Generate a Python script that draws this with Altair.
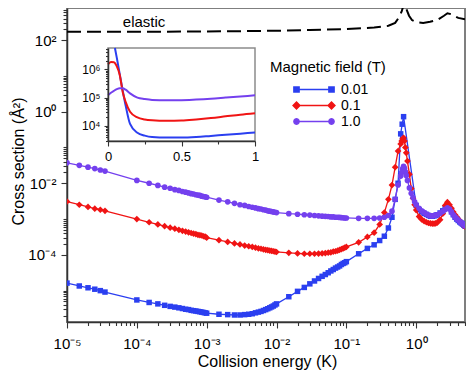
import math
import altair as alt
import pandas as pd

FONT = "Liberation Sans, Arial, Helvetica, sans-serif"

# ---------------- data ----------------
series_names = ["0.01", "0.1", "1.0"]
series_colors = ["#2b3ff0", "#f01414", "#7440ee"]

# common low-energy grid (K)
x_low = [1e-5, 1.5e-5, 2e-5, 2.5e-5, 3e-5, 3.5e-5,
         1e-4, 1.5e-4, 2e-4, 2.5e-4, 3e-4, 3.5e-4, 4e-4, 4.5e-4, 5e-4,
         5.5e-4, 6e-4, 6.5e-4, 7e-4, 7.5e-4, 8e-4, 8.5e-4, 9e-4, 9.5e-4,
         1e-3, 1.5e-3, 2e-3, 2.5e-3, 3e-3, 3.5e-3, 4e-3, 4.5e-3, 5e-3,
         5.5e-3, 6e-3, 6.5e-3, 7e-3, 7.5e-3, 8e-3, 8.5e-3, 9e-3, 9.5e-3,
         1e-2, 1.5e-2, 2e-2, 2.5e-2, 3e-2, 3.5e-2, 4e-2, 4.5e-2, 5e-2,
         5.5e-2, 6e-2, 6.5e-2, 7e-2, 7.5e-2, 8e-2, 8.5e-2, 9e-2, 9.5e-2,
         0.1, 0.15, 0.2, 0.25, 0.3, 0.35, 0.4, 0.45]

# log10 of cross section (A^2) on x_low
blue_low_log = [-4.79, -4.87, -4.92, -4.96, -5.00, -5.04,
                -5.26, -5.33, -5.37, -5.41, -5.44, -5.46, -5.48, -5.50, -5.52,
                -5.53, -5.55, -5.56, -5.57, -5.58, -5.59, -5.60, -5.61, -5.62,
                -5.63, -5.66, -5.67, -5.68, -5.68, -5.67, -5.66, -5.645, -5.62,
                -5.60, -5.58, -5.555, -5.53, -5.505, -5.48, -5.455, -5.43, -5.40,
                -5.37, -5.17, -5.02, -4.91, -4.81, -4.73, -4.66, -4.60, -4.55,
                -4.50, -4.45, -4.41, -4.37, -4.34, -4.31, -4.27, -4.24, -4.22,
                -4.19, -3.97, -3.82, -3.72, -3.60, -3.48, -3.25, -2.95]
red_low_log = [-2.51, -2.60, -2.66, -2.71, -2.74, -2.77,
               -3.00, -3.09, -3.15, -3.20, -3.24, -3.27, -3.30, -3.33, -3.35,
               -3.37, -3.39, -3.41, -3.42, -3.44, -3.45, -3.46, -3.48, -3.49,
               -3.52, -3.59, -3.64, -3.68, -3.71, -3.74, -3.76, -3.78, -3.80,
               -3.82, -3.83, -3.85, -3.86, -3.87, -3.88, -3.89, -3.90, -3.91,
               -3.92, -3.945, -3.96, -3.97, -3.97, -3.97, -3.965, -3.96, -3.95,
               -3.94, -3.93, -3.91, -3.90, -3.88, -3.86, -3.84, -3.82, -3.80,
               -3.78, -3.65, -3.50, -3.38, -3.15, -2.82, -2.45, -2.05]
purple_low_log = [-1.43, -1.50, -1.55, -1.59, -1.63, -1.66,
                  -1.92, -2.00, -2.06, -2.11, -2.14, -2.18, -2.20, -2.23, -2.25,
                  -2.27, -2.29, -2.30, -2.32, -2.33, -2.34, -2.36, -2.37, -2.38,
                  -2.39, -2.47, -2.52, -2.56, -2.60, -2.62, -2.65, -2.67, -2.69,
                  -2.71, -2.72, -2.74, -2.75, -2.77, -2.78, -2.79, -2.80, -2.81,
                  -2.82, -2.85, -2.865, -2.88, -2.89, -2.90, -2.91, -2.92, -2.925,
                  -2.93, -2.94, -2.94, -2.95, -2.95, -2.955, -2.96, -2.965, -2.97,
                  -2.97, -2.98, -2.98, -2.98, -2.97, -2.95, -2.90, -2.78]

# resonance / high-energy region
x_high = [0.5, 0.55, 0.6, 0.62, 0.64, 0.66, 0.68, 0.7, 0.72, 0.75, 0.8, 0.85,
          0.9, 0.95, 1.0, 1.1, 1.2, 1.3, 1.4, 1.5, 1.6, 1.7, 1.8, 1.9, 2.0,
          2.2, 2.4, 2.6, 2.8, 3.0, 3.2, 3.4, 3.6, 3.8, 4.0, 4.2, 4.4, 4.6, 4.8, 5.0]
red_high_log = [-1.55, -1.10, -0.90, -0.82, -0.76, -0.73, -0.82, -1.00, -1.15,
                -1.38, -1.75, -2.15, -2.42, -2.60, -2.75, -2.93, -3.01, -3.06,
                -3.09, -3.11, -3.12, -3.13, -3.13, -3.12, -3.10, -3.02, -2.85,
                -2.62, -2.53, -2.60, -2.70, -2.80, -2.88, -2.94, -3.00, -3.05,
                -3.10, -3.14, -3.18, -3.21]
purple_high_log = [-2.45, -2.05, -1.80, -1.70, -1.60, -1.53, -1.58, -1.68, -1.78,
                   -1.92, -2.13, -2.28, -2.40, -2.52, -2.60, -2.70, -2.77, -2.82,
                   -2.86, -2.89, -2.91, -2.91, -2.90, -2.89, -2.88, -2.84, -2.79,
                   -2.73, -2.69, -2.72, -2.80, -2.88, -2.94, -2.99, -3.03, -3.07,
                   -3.10, -3.13, -3.16, -3.19]
x_high_blue = [0.5, 0.55, 0.6, 0.63, 0.66, 1.0, 1.1, 1.2, 1.3, 1.4, 1.5, 1.6,
               1.7, 1.8, 1.9, 2.0, 2.2, 2.4, 2.6, 2.8, 3.0, 3.2, 3.4, 3.6, 3.8,
               4.0, 4.2, 4.4, 4.6, 4.8, 5.0]
blue_high_log = [-2.45, -2.00, -0.62, -0.35, -0.14, -2.62, -2.74, -2.80, -2.84,
                 -2.87, -2.90, -2.92, -2.92, -2.91, -2.90, -2.88, -2.83, -2.77,
                 -2.70, -2.64, -2.70, -2.80, -2.88, -2.95, -3.00, -3.04, -3.08,
                 -3.11, -3.14, -3.17, -3.20]

# elastic cross section (dashed)
elastic_x = [1e-5, 1e-4, 1e-3, 1e-2, 0.03, 0.1, 0.25, 0.4, 0.5, 0.56, 0.62,
             0.68, 0.72, 0.79, 0.87, 1.0, 1.26, 1.58, 2.0, 2.5, 2.8, 3.2, 4.0, 5.0]
elastic_log = [2.23, 2.23, 2.24, 2.26, 2.28, 2.31, 2.35, 2.40, 2.48, 2.62, 2.80,
               3.07, 2.88, 2.68, 2.56, 2.50, 2.48, 2.51, 2.56, 2.68, 2.75, 2.72,
               2.62, 2.58]
elastic_label = ["elastic"]
elastic_label_x = [1.27e-4]
elastic_label_y = [320.0]

# inset (linear energy axis, K)
inset_x = [0.0, 0.02, 0.04, 0.06, 0.08, 0.1, 0.12, 0.15, 0.2, 0.25, 0.3, 0.4,
           0.5, 0.6, 0.7, 0.8, 0.9, 1.0]
inset_red_log = [6.17, 6.26, 6.25, 6.10, 5.80, 5.20, 4.85, 4.50, 4.30, 4.23,
                 4.20, 4.18, 4.19, 4.23, 4.28, 4.34, 4.40, 4.45]
inset_purple_log = [5.08, 5.17, 5.24, 5.30, 5.33, 5.33, 5.28, 5.15, 5.00, 4.95,
                    4.92, 4.91, 4.91, 4.93, 4.96, 5.00, 5.04, 5.08]
inset_blue_x = [0.047, 0.06, 0.08, 0.1, 0.12, 0.15, 0.2, 0.25, 0.3, 0.4, 0.5,
                0.6, 0.7, 0.8, 0.9, 1.0]
inset_blue_log = [6.75, 6.40, 5.82, 5.25, 4.72, 4.07, 3.76, 3.66, 3.61, 3.59,
                  3.59, 3.61, 3.65, 3.69, 3.73, 3.77]

legend_title = "Magnetic field (T)"

# ---------------- tables ----------------
def table(xs, logs, name):
    return pd.DataFrame({"x": xs, "y": [10 ** v for v in logs], "series": name})

blue_df = pd.concat([table(x_low, blue_low_log, "0.01"), table(x_high_blue, blue_high_log, "0.01")])
red_df = pd.concat([table(x_low, red_low_log, "0.1"), table(x_high, red_high_log, "0.1")])
purple_df = pd.concat([table(x_low, purple_low_log, "1.0"), table(x_high, purple_high_log, "1.0")])
elastic_df = table(elastic_x, elastic_log, "elastic")
label_df = pd.DataFrame({"x": elastic_label_x, "y": elastic_label_y, "t": elastic_label})
legend_df = pd.DataFrame({"series": series_names, "x": [1e-7] * 3, "y": [1e-9] * 3})
inset_df = pd.concat([table(inset_blue_x, inset_blue_log, "0.01"),
                      table(inset_x, inset_red_log, "0.1"),
                      table(inset_x, inset_purple_log, "1.0")])
X_DOM = [1e-5, 5.0]
Y_DOM = [1.33e-6, 787.0]
IX_DOM = [0.0, 1.0]
IY_DOM = [10 ** 3.47, 10 ** 6.75]
frame_df = pd.DataFrame({"x": [IX_DOM[0]], "x2": [IX_DOM[1]], "y": [IY_DOM[0]], "y2": [IY_DOM[1]]})

# ---------------- axes helpers ----------------
SUP = {"-": "\u207b", "0": "\u2070", "1": "\u00b9", "2": "\u00b2", "3": "\u00b3",
       "4": "\u2074", "5": "\u2075", "6": "\u2076"}

def sup_label(e):
    return "10" + "".join(SUP[c] for c in str(e))

def label_expr(pairs):
    expr = "''"
    for v, t in reversed(pairs):
        expr = f"datum.value == {v!r} ? '{t}' : ({expr})"
    return expr

def decade_minors(e, lo=2, hi=9):
    return [k * 10.0 ** e for k in range(lo, hi + 1)]

x_major = [10.0 ** e for e in range(-5, 1)]
x_ticks = list(x_major)
for e in range(-5, 0):
    x_ticks += decade_minors(e)
x_ticks += [2.0, 3.0, 4.0, 5.0]
x_labels = [(10.0 ** e, sup_label(e)) for e in range(-5, 1)]

y_ticks = [10.0 ** e for e in range(-5, 3)]
for e in (-6, -4, -2, 0):
    y_ticks += decade_minors(e)
y_ticks += decade_minors(2, 2, 7)
y_labels = [(10.0 ** e, sup_label(e)) for e in (-4, -2, 0, 2)]

iy_ticks = [1e4, 1e5, 1e6] + decade_minors(3, 3, 9) + decade_minors(4) + decade_minors(5) + decade_minors(6, 2, 5)
iy_labels = [(10.0 ** e, sup_label(e)) for e in (4, 5, 6)]

MAJOR = "abs(log(datum.value)/LN10 - round(log(datum.value)/LN10)) < 0.001"
EVEN = MAJOR + " && abs(round(log(datum.value)/LN10) % 2) < 0.5"

PLOT_W = 398
PLOT_H = 314

x_axis = alt.Axis(values=x_ticks, labelExpr=label_expr(x_labels),
                  tickSize={"condition": {"test": MAJOR, "value": 6}, "value": 3.5},
                  labelFontSize=15, labelPadding=8, labelFlush=False, labelOverlap=False,
                  title="Collision energy (K)", titleFontSize=16, titleFontWeight="normal",
                  titleX=200, titleY=39, titleBaseline="middle", grid=False)
y_axis = alt.Axis(values=y_ticks, labelExpr=label_expr(y_labels),
                  tickSize={"condition": {"test": EVEN, "value": 6}, "value": 4},
                  labelFontSize=15, labelPadding=5, labelFlush=False, labelOverlap=False,
                  title="Cross section (\u00c5\u00b2)", titleFontSize=16, titleFontWeight="normal",
                  titleX=-49, titleY=153, titleBaseline="middle", titleAlign="center", grid=False)

X = alt.X("x:Q", scale=alt.Scale(type="log", domain=X_DOM), axis=x_axis)
Y = alt.Y("y:Q", scale=alt.Scale(type="log", domain=Y_DOM), axis=y_axis)

color_scale = alt.Scale(domain=series_names, range=series_colors)

# ---------------- main layers ----------------
elastic = alt.Chart(elastic_df).mark_line(color="black", strokeDash=[14, 6], strokeWidth=2,
                                          clip=True).encode(x=X, y=Y)
elastic_text = alt.Chart(label_df).mark_text(font=FONT, fontSize=15, color="black",
                                             baseline="middle").encode(x=X, y=Y, text="t:N")

def series(df, color, shape, size):
    line = alt.Chart(df).mark_line(color=color, strokeWidth=1.3, clip=True).encode(x=X, y=Y)
    pts = alt.Chart(df).mark_point(shape=shape, filled=True, color=color, size=size,
                                   opacity=1, clip=True).encode(x=X, y=Y)
    return [line, pts]

# legend symbols: a line with a marker at each end
def poly_circle(cx, r, n=12):
    pts = [(cx + r * math.cos(2 * math.pi * i / n), r * math.sin(2 * math.pi * i / n)) for i in range(n)]
    return "M" + "L".join(f"{a:.3f},{b:.3f}" for a, b in pts) + "Z"

def sq(cx, h):
    return f"M{cx - h:.3f},{-h:.3f}H{cx + h:.3f}V{h:.3f}H{cx - h:.3f}Z"

def dia(cx, h):
    return f"M{cx - h:.3f},0L{cx:.3f},{-h:.3f}L{cx + h:.3f},0L{cx:.3f},{h:.3f}Z"

E = 0.875
LINE = f"M{-E},0H{E}"
legend_paths = [LINE + sq(-E, 0.13) + sq(E, 0.13),
                LINE + dia(-E, 0.17) + dia(E, 0.17),
                LINE + poly_circle(-E, 0.13) + poly_circle(E, 0.13)]

leg = alt.Legend(title=legend_title, orient="none", legendX=203, legendY=52,
                 symbolSize=1600, clipHeight=15, symbolOffset=23, labelOffset=6,
                 symbolStrokeWidth=1.5, rowPadding=1, titlePadding=7,
                 labelFont=FONT, labelFontSize=14, labelColor="black",
                 titleFont=FONT, titleFontSize=15, titleFontWeight="normal",
                 titleColor="black", titleLimit=300)
dummy = alt.Chart(legend_df).mark_point(filled=True, opacity=1, strokeWidth=1.5,
                                        clip=True).encode(
    x=X, y=Y,
    color=alt.Color("series:N", scale=color_scale, legend=leg),
    stroke=alt.Stroke("series:N", scale=color_scale, legend=leg),
    shape=alt.Shape("series:N", scale=alt.Scale(domain=series_names, range=legend_paths), legend=leg),
)

main = alt.layer(elastic, elastic_text,
                 *series(blue_df, series_colors[0], "square", 30),
                 *series(red_df, series_colors[1], "diamond", 45),
                 *series(purple_df, series_colors[2], "circle", 32),
                 dummy)

# ---------------- inset ----------------
ix_axis = alt.Axis(orient="bottom", offset=-181, values=[0, 0.25, 0.5, 0.75, 1],
                   labelExpr="datum.value == 0 ? '0' : datum.value == 0.5 ? '0.5' : datum.value == 1 ? '1' : ''",
                   tickSize={"condition": {"test": "datum.value == 0.25 || datum.value == 0.75", "value": 3}, "value": 5},
                   labelFontSize=13, labelPadding=4, labelFlush=False, labelOverlap=False,
                   title=None, zindex=1, grid=False)
iy_axis = alt.Axis(orient="left", offset=-41, values=iy_ticks, labelExpr=label_expr(iy_labels),
                   tickSize={"condition": {"test": MAJOR, "value": 4}, "value": 2.5},
                   labelFontSize=12, labelPadding=4, labelFlush=False, labelOverlap=False,
                   title=None, zindex=1, grid=False)
IX = alt.X("x:Q", scale=alt.Scale(domain=IX_DOM, range=[41, 188]), axis=ix_axis)
IY = alt.Y("y:Q", scale=alt.Scale(type="log", domain=IY_DOM, range=[133, 40]), axis=iy_axis)

inset_frame = alt.Chart(frame_df).mark_rect(fill="white", stroke="#8c8c8c", strokeWidth=1.5).encode(
    x=IX, x2="x2:Q", y=IY, y2="y2:Q")
inset_lines = alt.Chart(inset_df).mark_line(strokeWidth=2, interpolate="monotone").encode(
    x=IX, y=IY, color=alt.Color("series:N", scale=color_scale, legend=None), detail="series:N")

inset = alt.layer(inset_frame, inset_lines)

chart = alt.layer(main, inset).resolve_scale(x="independent", y="independent").properties(
    width=PLOT_W, height=PLOT_H,
    autosize=alt.AutoSizeParams(type="none"),
    padding={"left": 59, "top": 0, "right": 1, "bottom": 48},
).configure_view(stroke="#7f7f7f", strokeWidth=2).configure_axis(
    domainColor="#333333", tickColor="#333333", labelColor="black", titleColor="black",
    labelFont=FONT, titleFont=FONT, domainWidth=1.5, tickWidth=1.1, grid=False)

chart.save("out.html", embed_options={"renderer": "svg", "actions": False})
